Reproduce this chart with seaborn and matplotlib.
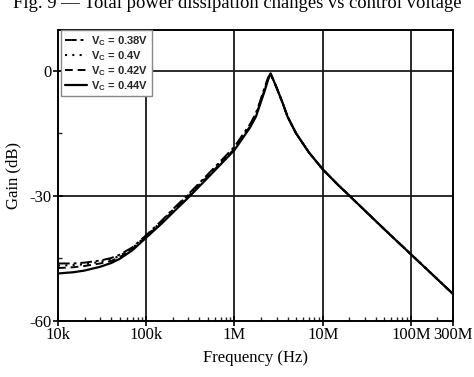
import numpy as np
import pandas as pd
import matplotlib
matplotlib.use("Agg")
import matplotlib.pyplot as plt
import matplotlib.ticker as mticker
import seaborn as sns

# Frequency points (Hz)
freq = [1e4, 1.5e4, 2e4, 3e4, 4e4, 5e4, 7e4, 1e5, 1.5e5, 2e5, 3e5, 5e5, 7e5,
        1e6, 1.5e6, 1.75e6, 2e6, 2.2e6, 2.4e6, 2.57e6, 2.8e6, 3e6, 3.5e6,
        4e6, 5e6, 7e6, 1e7, 1.5e7, 2e7, 3e7, 5e7, 1e8, 2e8, 3e8]

# common high-frequency tail (after the peak)
tail = [-2.5, -4.0, -7.6, -11.0, -15.0, -19.6, -23.6, -27.4, -29.9, -33.5,
        -38.0, -44.0, -50.0, -53.5]

gain_038 = [-46.2, -46.2, -46.0, -45.5, -44.9, -44.1, -42.3, -39.4, -35.9, -33.2,
            -29.6, -24.8, -21.6, -18.2, -12.8, -10.2, -6.6, -4.0, -1.6, -0.8] + tail
gain_040 = [-46.7, -46.6, -46.4, -45.8, -45.2, -44.4, -42.5, -39.6, -36.1, -33.4,
            -29.8, -25.0, -21.8, -18.4, -13.0, -10.4, -6.8, -4.2, -1.8, -0.8] + tail
gain_042 = [-47.3, -47.1, -46.8, -46.2, -45.6, -44.7, -42.7, -39.8, -36.3, -33.7,
            -30.1, -25.3, -22.1, -18.7, -13.3, -10.7, -7.1, -4.5, -2.0, -0.7] + tail
gain_044 = [-48.6, -48.3, -47.9, -47.0, -46.1, -45.1, -43.0, -40.0, -36.6, -34.0,
            -30.4, -25.6, -22.4, -19.0, -13.6, -11.0, -7.4, -4.8, -2.2, -0.6] + tail

labels = [r"$\mathbf{V_C}$ = 0.38V", r"$\mathbf{V_C}$ = 0.4V",
          r"$\mathbf{V_C}$ = 0.42V", r"$\mathbf{V_C}$ = 0.44V"]

xticks = [1e4, 1e5, 1e6, 1e7, 1e8, 3e8]
xticklabels = ["10k", "100k", "1M", "10M", "100M", "300M"]
yticks = [0, -30, -60]
yticklabels = ["0", "-30", "-60"]

sns.set_theme(style="white")
plt.rcParams["font.family"] = ["Liberation Serif", "DejaVu Serif"]
plt.rcParams["mathtext.fontset"] = "custom"
plt.rcParams["mathtext.bf"] = "Liberation Sans:bold"
plt.rcParams["mathtext.rm"] = "Liberation Sans:bold"

fig = plt.figure(figsize=(4.74, 3.77), dpi=100)
ax = fig.add_axes([58 / 474, 1 - 321 / 377, 395 / 474, 291 / 377])

styles = [(0, (6, 2, 1.5, 2)), (0, (1, 2.5)), (0, (4, 2.5)), "-"]
widths = [1.4, 1.5, 1.4, 1.6]
for vals, lab, ls, lw in zip([gain_038, gain_040, gain_042, gain_044], labels, styles, widths):
    df = pd.DataFrame({"freq": freq, "gain": vals})
    sns.lineplot(data=df, x="freq", y="gain", ax=ax, color="black",
                 linestyle=ls, linewidth=lw, label=lab)

ax.set_xscale("log")
ax.set_xlim(1e4, 3e8)
ax.set_ylim(-60, 9.8)

# grid lines (major only)
for x in [1e5, 1e6, 1e7, 1e8]:
    ax.axvline(x, color="#1a1a1a", linewidth=1.3, zorder=0)
for y in [0, -30]:
    ax.axhline(y, color="#1a1a1a", linewidth=1.3, zorder=0)

ax.set_xticks(xticks)
ax.set_xticklabels(xticklabels)
ax.xaxis.set_minor_locator(mticker.LogLocator(base=10, subs=np.arange(2, 10), numticks=20))
ax.xaxis.set_minor_formatter(mticker.NullFormatter())
ax.set_yticks(yticks)
ax.set_yticklabels(yticklabels)
ax.set_yticks([-15, -45], minor=True)

ax.tick_params(axis="both", which="major", direction="inout", length=7, width=1.2,
               labelsize=12, colors="black", bottom=True, left=True, pad=1)
ax.tick_params(axis="both", which="minor", direction="in", length=3, width=1.0,
               bottom=True, left=True)

for s in ax.spines.values():
    s.set_color("black")
    s.set_linewidth(1.4)

ax.set_xlabel("Frequency (Hz)", fontsize=12, color="black", labelpad=5)
ax.set_ylabel("Gain (dB)", fontsize=12, color="black", labelpad=6)

leg = ax.legend(loc="upper left", bbox_to_anchor=(0.0, 1.01), frameon=True,
                fancybox=False, framealpha=1, edgecolor="#888888",
                prop={"family": "Liberation Sans", "weight": "bold", "size": 8},
                handlelength=2.0, handletextpad=0.4, labelspacing=0.12,
                borderpad=0.3, borderaxespad=0.3)
leg.get_frame().set_linewidth(1.0)

fig.text(0.5, 1 - 8 / 377, "Fig. 9 \u2014 Total power dissipation changes vs control voltage",
         ha="center", va="baseline", fontsize=13.4, color="black")

fig.savefig("out.png", dpi=100)
